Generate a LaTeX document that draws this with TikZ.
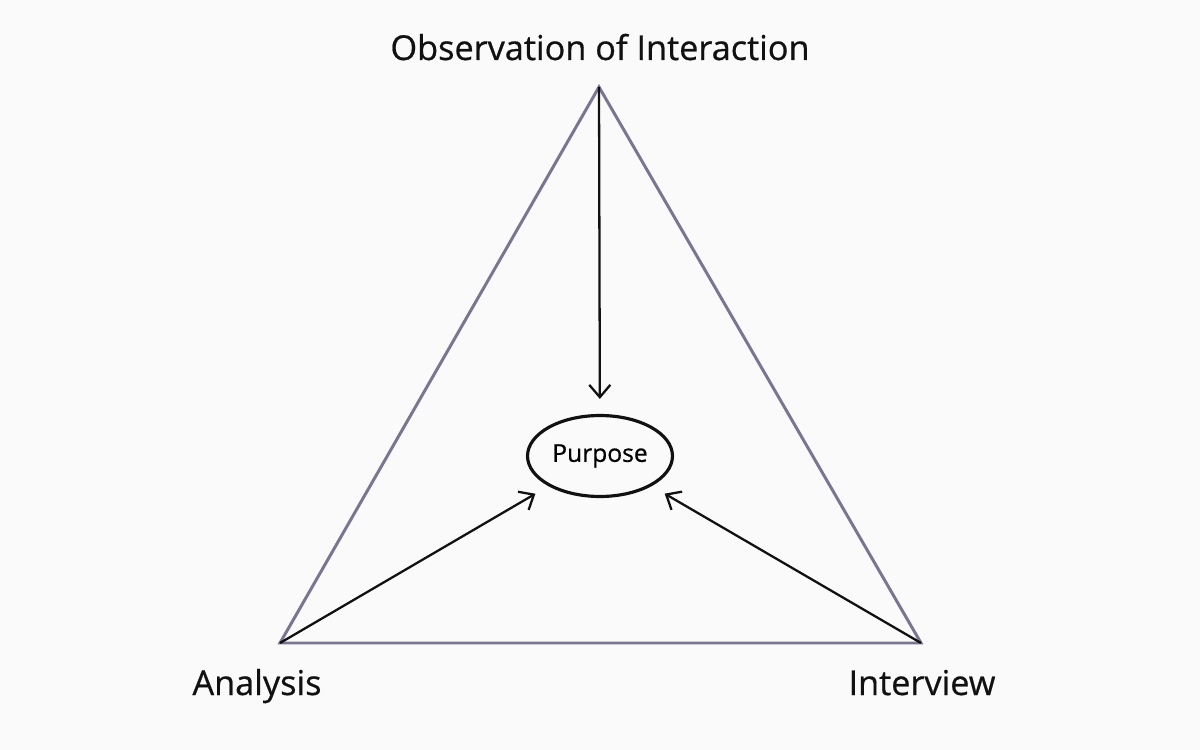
\documentclass[tikz,border=0pt]{standalone}
\usepackage{fontspec}
\setmainfont{Open Sans}
\newfontfamily\labelfont{Open Sans}[FakeBold=0.6]
\usetikzlibrary{arrows.meta,shapes.geometric}
\definecolor{paper}{HTML}{FAFAFA}
\definecolor{slate}{HTML}{7A7590}
\definecolor{ink}{HTML}{111111}

\begin{document}
\begin{tikzpicture}[x=0.02cm,y=-0.02cm,
  corner label/.style={font=\labelfont\fontsize{19.5}{22}\selectfont,text=ink,anchor=base},
  pointer/.style={-{Straight Barb[length=7pt,width=12pt]},ink,line width=1.3pt,shorten >=0.3cm}]

% ===== Background =====
\fill[paper] (0,0) rectangle (1200,750);
\useasboundingbox (0,0) rectangle (1200,750);

% Corners of the triangle
\coordinate (obs) at (599,87);
\coordinate (ana) at (280,643);
\coordinate (int) at (921,643);

% Triangle
\draw[slate,line width=1.7pt,line join=miter] (obs) -- (int) -- (ana) -- cycle;

% Purpose in the middle
\node[ellipse,draw=ink,line width=1.8pt,minimum width=2.9cm,minimum height=1.62cm,
  inner sep=0pt,font=\labelfont\fontsize{14}{16}\selectfont] (purpose) at (600,456) {Purpose};

% Arrows towards purpose
\draw[pointer] (obs) -- (purpose);
\draw[pointer] (ana) -- (purpose);
\draw[pointer] (int) -- (purpose);

% Labels
\node[corner label] (obslabel) at (600,60) {Observation of Interaction};
\node[corner label] (analabel) at (257,695) {Analysis};
\node[corner label] (intlabel) at (922,695) {Interview};

\end{tikzpicture}
\end{document}
